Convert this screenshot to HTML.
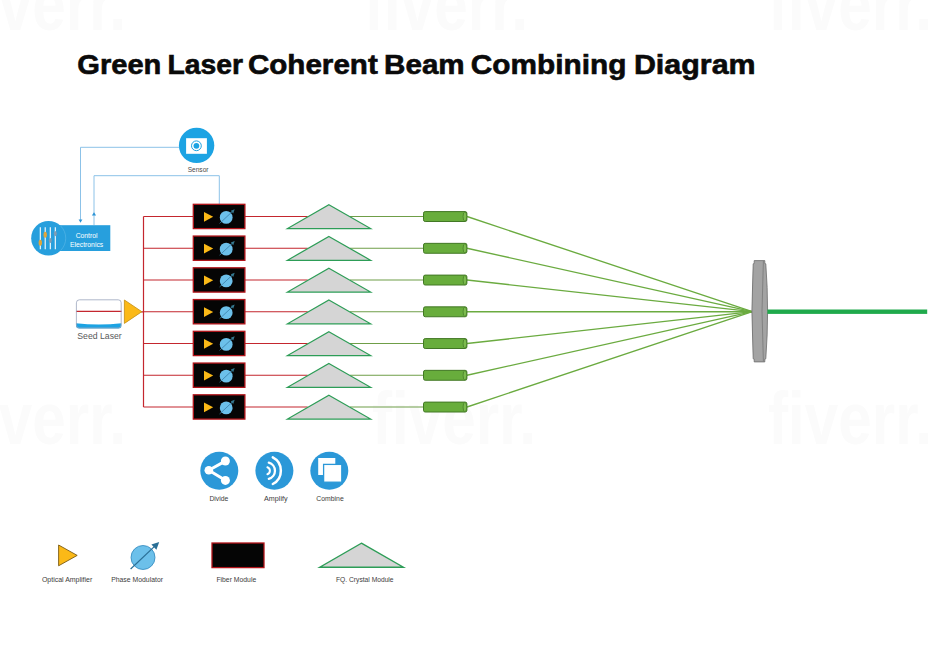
<!DOCTYPE html>
<html><head><meta charset="utf-8"><title>Green Laser Coherent Beam Combining Diagram</title>
<style>
html,body{margin:0;padding:0;background:#fff;}
body{width:950px;height:672px;overflow:hidden;position:relative;font-family:"Liberation Sans",sans-serif;}
svg{position:absolute;left:0;top:0;}
text{font-family:"Liberation Sans",sans-serif;}
</style></head><body>
<svg width="950" height="672" viewBox="0 0 950 672">
<rect width="950" height="672" fill="#ffffff"/>

<g fill="#fbfbfb" font-weight="bold" font-size="74">
<text x="-38" y="30" textLength="164" lengthAdjust="spacingAndGlyphs">fiverr.</text>
<text x="364" y="30" textLength="164" lengthAdjust="spacingAndGlyphs">fiverr.</text>
<text x="768" y="30" textLength="164" lengthAdjust="spacingAndGlyphs">fiverr.</text>
<text x="-38" y="444" textLength="164" lengthAdjust="spacingAndGlyphs">fiverr.</text>
<text x="372" y="444" textLength="164" lengthAdjust="spacingAndGlyphs">fiverr.</text>
<text x="768" y="444" textLength="164" lengthAdjust="spacingAndGlyphs">fiverr.</text>
</g>
<text class="tw" x="77.30" y="73.6" font-size="27" font-weight="bold" fill="#0a0a0a" stroke="#0a0a0a" stroke-width="0.6" textLength="84.10" lengthAdjust="spacingAndGlyphs">Green</text>
<text class="tw" x="167.50" y="73.6" font-size="27" font-weight="bold" fill="#0a0a0a" stroke="#0a0a0a" stroke-width="0.6" textLength="75.50" lengthAdjust="spacingAndGlyphs">Laser</text>
<text class="tw" x="247.90" y="73.6" font-size="27" font-weight="bold" fill="#0a0a0a" stroke="#0a0a0a" stroke-width="0.6" textLength="129.90" lengthAdjust="spacingAndGlyphs">Coherent</text>
<text class="tw" x="384.10" y="73.6" font-size="27" font-weight="bold" fill="#0a0a0a" stroke="#0a0a0a" stroke-width="0.6" textLength="80.60" lengthAdjust="spacingAndGlyphs">Beam</text>
<text class="tw" x="470.80" y="73.6" font-size="27" font-weight="bold" fill="#0a0a0a" stroke="#0a0a0a" stroke-width="0.6" textLength="155.60" lengthAdjust="spacingAndGlyphs">Combining</text>
<text class="tw" x="633.90" y="73.6" font-size="27" font-weight="bold" fill="#0a0a0a" stroke="#0a0a0a" stroke-width="0.6" textLength="121.70" lengthAdjust="spacingAndGlyphs">Diagram</text>
<g fill="none" stroke="#8cc2e8" stroke-width="1">
<path d="M179 147.3 H80.5 V220"/>
<path d="M94 225 V175.7 H219.3 V204"/>
</g>
<path d="M78.6 219.6 L82.4 219.6 L80.5 222.8 Z" fill="#2a93d5"/>
<path d="M91.9 215.5 L96.1 215.5 L94 212.2 Z" fill="#2a93d5"/>
<circle cx="196.6" cy="145.4" r="17.7" fill="#1ca3e3"/>
<rect x="186.1" y="138.2" width="20.8" height="15.6" fill="#fff"/>
<circle cx="196.4" cy="145.8" r="4.9" fill="#fff" stroke="#1ca3e3" stroke-width="1"/>
<circle cx="196.4" cy="145.8" r="2.9" fill="#1ca3e3"/>
<text x="198.1" y="171.6" font-size="7.3" fill="#4a4a4a" text-anchor="middle" textLength="20.8" lengthAdjust="spacingAndGlyphs">Sensor</text>
<rect x="48" y="225.2" width="62.3" height="25.8" fill="#279fdd"/>
<circle cx="48.5" cy="238.2" r="17.3" fill="#279fdd"/>
<path d="M60.7 226 A17.3 17.3 0 0 1 60.7 250.4" fill="none" stroke="#5cb8e8" stroke-width="0.6"/>
<g stroke="#fff" stroke-width="1.1"><path d="M40.3 227.2V249.2M45.2 227.2V249.2M50.3 227.2V249.2M55.3 227.2V249.2"/></g>
<ellipse cx="45.2" cy="234.7" rx="1.7" ry="3" fill="#e2a63a"/>
<ellipse cx="40.3" cy="242.8" rx="1.7" ry="3" fill="#e2a63a"/>
<ellipse cx="50.3" cy="240.5" rx="1.5" ry="2.6" fill="#7f9db5"/>
<ellipse cx="55.3" cy="233.6" rx="1.5" ry="2.6" fill="#7f9db5"/>
<text x="86.6" y="237.6" font-size="6.8" fill="#fff" text-anchor="middle">Control</text>
<text x="86.6" y="246.5" font-size="6.8" fill="#fff" text-anchor="middle">Electronics</text>
<g fill="none" stroke="#c4262e" stroke-width="1.2">
<path d="M143.5 216.5 V407.0"/>
<path d="M143.5 216.50 H193 M245 216.50 H307.7"/>
<path d="M143.5 248.25 H193 M245 248.25 H307.7"/>
<path d="M143.5 280.00 H193 M245 280.00 H307.7"/>
<path d="M143.5 311.75 H193 M245 311.75 H307.7"/>
<path d="M143.5 343.50 H193 M245 343.50 H307.7"/>
<path d="M143.5 375.25 H193 M245 375.25 H307.7"/>
<path d="M143.5 407.00 H193 M245 407.00 H307.7"/>
<path d="M76 311.4 H121.6 M141 311.8 H144"/>
</g>
<defs><clipPath id="sl"><rect x="76" y="299.4" width="45.6" height="29" rx="3.2"/></clipPath></defs>
<g clip-path="url(#sl)"><rect x="76" y="299.4" width="45.6" height="29" fill="#fff"/><path d="M76 323.2 Q98.8 325.6 121.6 323.2 V329 H76 Z" fill="#1ca3e3"/><path d="M76 311.4 H121.6" stroke="#c4262e" stroke-width="1.2"/></g>
<rect x="76.4" y="299.8" width="44.8" height="28.2" rx="3" fill="none" stroke="#9aa4bc" stroke-width="0.8"/>
<path d="M124.4 300 L141.8 311.7 L124.4 323.4 Z" fill="#fbb917" stroke="#c9951c" stroke-width="0.9" stroke-linejoin="miter"/>
<text x="99.5" y="338.9" font-size="8.7" fill="#58595b" text-anchor="middle">Seed Laser</text>
<g fill="none" stroke="#6fa045" stroke-width="1.15">
<path d="M350 216.50 H423.5" stroke="#6f9e48" stroke-width="1.05"/><path d="M467 216.50 L752.3 311.7" stroke="#6bab40" stroke-width="1.35"/>
<path d="M350 248.25 H423.5" stroke="#6f9e48" stroke-width="1.05"/><path d="M467 248.25 L752.3 311.7" stroke="#6bab40" stroke-width="1.35"/>
<path d="M350 280.00 H423.5" stroke="#6f9e48" stroke-width="1.05"/><path d="M467 280.00 L752.3 311.7" stroke="#6bab40" stroke-width="1.35"/>
<path d="M350 311.75 H423.5" stroke="#6f9e48" stroke-width="1.05"/><path d="M467 311.75 L752.3 311.7" stroke="#6bab40" stroke-width="1.35"/>
<path d="M350 343.50 H423.5" stroke="#6f9e48" stroke-width="1.05"/><path d="M467 343.50 L752.3 311.7" stroke="#6bab40" stroke-width="1.35"/>
<path d="M350 375.25 H423.5" stroke="#6f9e48" stroke-width="1.05"/><path d="M467 375.25 L752.3 311.7" stroke="#6bab40" stroke-width="1.35"/>
<path d="M350 407.00 H423.5" stroke="#6f9e48" stroke-width="1.05"/><path d="M467 407.00 L752.3 311.7" stroke="#6bab40" stroke-width="1.35"/>
</g>
<g transform="translate(0 0.00)">
<rect x="193.3" y="204.3" width="51.6" height="24.3" fill="#050505" stroke="#b2141a" stroke-width="1.3"/>
<path d="M204 211.9 L213.2 216.8 L204 221.7 Z" fill="#fbb917"/>
<path d="M219.6 223.4 L232.8 211" stroke="#2f6a86" stroke-width="1" fill="none"/>
<circle cx="226.2" cy="217.4" r="6.4" fill="#6cc0ea"/>
<path d="M221.6 221.6 L231 212.8" stroke="#3f86b0" stroke-width="0.9" fill="none"/>
<path d="M234.7 209.2 L230.8 210.8 L233.2 213.4 Z" fill="#35788f"/>
</g>
<g transform="translate(0 31.75)">
<rect x="193.3" y="204.3" width="51.6" height="24.3" fill="#050505" stroke="#b2141a" stroke-width="1.3"/>
<path d="M204 211.9 L213.2 216.8 L204 221.7 Z" fill="#fbb917"/>
<path d="M219.6 223.4 L232.8 211" stroke="#2f6a86" stroke-width="1" fill="none"/>
<circle cx="226.2" cy="217.4" r="6.4" fill="#6cc0ea"/>
<path d="M221.6 221.6 L231 212.8" stroke="#3f86b0" stroke-width="0.9" fill="none"/>
<path d="M234.7 209.2 L230.8 210.8 L233.2 213.4 Z" fill="#35788f"/>
</g>
<g transform="translate(0 63.50)">
<rect x="193.3" y="204.3" width="51.6" height="24.3" fill="#050505" stroke="#b2141a" stroke-width="1.3"/>
<path d="M204 211.9 L213.2 216.8 L204 221.7 Z" fill="#fbb917"/>
<path d="M219.6 223.4 L232.8 211" stroke="#2f6a86" stroke-width="1" fill="none"/>
<circle cx="226.2" cy="217.4" r="6.4" fill="#6cc0ea"/>
<path d="M221.6 221.6 L231 212.8" stroke="#3f86b0" stroke-width="0.9" fill="none"/>
<path d="M234.7 209.2 L230.8 210.8 L233.2 213.4 Z" fill="#35788f"/>
</g>
<g transform="translate(0 95.25)">
<rect x="193.3" y="204.3" width="51.6" height="24.3" fill="#050505" stroke="#b2141a" stroke-width="1.3"/>
<path d="M204 211.9 L213.2 216.8 L204 221.7 Z" fill="#fbb917"/>
<path d="M219.6 223.4 L232.8 211" stroke="#2f6a86" stroke-width="1" fill="none"/>
<circle cx="226.2" cy="217.4" r="6.4" fill="#6cc0ea"/>
<path d="M221.6 221.6 L231 212.8" stroke="#3f86b0" stroke-width="0.9" fill="none"/>
<path d="M234.7 209.2 L230.8 210.8 L233.2 213.4 Z" fill="#35788f"/>
</g>
<g transform="translate(0 127.00)">
<rect x="193.3" y="204.3" width="51.6" height="24.3" fill="#050505" stroke="#b2141a" stroke-width="1.3"/>
<path d="M204 211.9 L213.2 216.8 L204 221.7 Z" fill="#fbb917"/>
<path d="M219.6 223.4 L232.8 211" stroke="#2f6a86" stroke-width="1" fill="none"/>
<circle cx="226.2" cy="217.4" r="6.4" fill="#6cc0ea"/>
<path d="M221.6 221.6 L231 212.8" stroke="#3f86b0" stroke-width="0.9" fill="none"/>
<path d="M234.7 209.2 L230.8 210.8 L233.2 213.4 Z" fill="#35788f"/>
</g>
<g transform="translate(0 158.75)">
<rect x="193.3" y="204.3" width="51.6" height="24.3" fill="#050505" stroke="#b2141a" stroke-width="1.3"/>
<path d="M204 211.9 L213.2 216.8 L204 221.7 Z" fill="#fbb917"/>
<path d="M219.6 223.4 L232.8 211" stroke="#2f6a86" stroke-width="1" fill="none"/>
<circle cx="226.2" cy="217.4" r="6.4" fill="#6cc0ea"/>
<path d="M221.6 221.6 L231 212.8" stroke="#3f86b0" stroke-width="0.9" fill="none"/>
<path d="M234.7 209.2 L230.8 210.8 L233.2 213.4 Z" fill="#35788f"/>
</g>
<g transform="translate(0 190.50)">
<rect x="193.3" y="204.3" width="51.6" height="24.3" fill="#050505" stroke="#b2141a" stroke-width="1.3"/>
<path d="M204 211.9 L213.2 216.8 L204 221.7 Z" fill="#fbb917"/>
<path d="M219.6 223.4 L232.8 211" stroke="#2f6a86" stroke-width="1" fill="none"/>
<circle cx="226.2" cy="217.4" r="6.4" fill="#6cc0ea"/>
<path d="M221.6 221.6 L231 212.8" stroke="#3f86b0" stroke-width="0.9" fill="none"/>
<path d="M234.7 209.2 L230.8 210.8 L233.2 213.4 Z" fill="#35788f"/>
</g>
<path d="M328.9 204.70 L370.6 228.50 L287.5 228.50 Z" fill="#d5d5d5" stroke="#2d9d57" stroke-width="1.25" stroke-linejoin="miter"/>
<path d="M328.9 236.45 L370.6 260.25 L287.5 260.25 Z" fill="#d5d5d5" stroke="#2d9d57" stroke-width="1.25" stroke-linejoin="miter"/>
<path d="M328.9 268.20 L370.6 292.00 L287.5 292.00 Z" fill="#d5d5d5" stroke="#2d9d57" stroke-width="1.25" stroke-linejoin="miter"/>
<path d="M328.9 299.95 L370.6 323.75 L287.5 323.75 Z" fill="#d5d5d5" stroke="#2d9d57" stroke-width="1.25" stroke-linejoin="miter"/>
<path d="M328.9 331.70 L370.6 355.50 L287.5 355.50 Z" fill="#d5d5d5" stroke="#2d9d57" stroke-width="1.25" stroke-linejoin="miter"/>
<path d="M328.9 363.45 L370.6 387.25 L287.5 387.25 Z" fill="#d5d5d5" stroke="#2d9d57" stroke-width="1.25" stroke-linejoin="miter"/>
<path d="M328.9 395.20 L370.6 419.00 L287.5 419.00 Z" fill="#d5d5d5" stroke="#2d9d57" stroke-width="1.25" stroke-linejoin="miter"/>
<g transform="translate(0 0.00)"><rect x="423.5" y="211.6" width="43.4" height="9.9" rx="1.7" fill="#68ad3c" stroke="#427825" stroke-width="1"/><ellipse cx="464.9" cy="216.55" rx="1.8" ry="4.6" fill="#7cbc4e" stroke="#427825" stroke-width="0.7"/></g>
<g transform="translate(0 31.75)"><rect x="423.5" y="211.6" width="43.4" height="9.9" rx="1.7" fill="#68ad3c" stroke="#427825" stroke-width="1"/><ellipse cx="464.9" cy="216.55" rx="1.8" ry="4.6" fill="#7cbc4e" stroke="#427825" stroke-width="0.7"/></g>
<g transform="translate(0 63.50)"><rect x="423.5" y="211.6" width="43.4" height="9.9" rx="1.7" fill="#68ad3c" stroke="#427825" stroke-width="1"/><ellipse cx="464.9" cy="216.55" rx="1.8" ry="4.6" fill="#7cbc4e" stroke="#427825" stroke-width="0.7"/></g>
<g transform="translate(0 95.25)"><rect x="423.5" y="211.6" width="43.4" height="9.9" rx="1.7" fill="#68ad3c" stroke="#427825" stroke-width="1"/><ellipse cx="464.9" cy="216.55" rx="1.8" ry="4.6" fill="#7cbc4e" stroke="#427825" stroke-width="0.7"/></g>
<g transform="translate(0 127.00)"><rect x="423.5" y="211.6" width="43.4" height="9.9" rx="1.7" fill="#68ad3c" stroke="#427825" stroke-width="1"/><ellipse cx="464.9" cy="216.55" rx="1.8" ry="4.6" fill="#7cbc4e" stroke="#427825" stroke-width="0.7"/></g>
<g transform="translate(0 158.75)"><rect x="423.5" y="211.6" width="43.4" height="9.9" rx="1.7" fill="#68ad3c" stroke="#427825" stroke-width="1"/><ellipse cx="464.9" cy="216.55" rx="1.8" ry="4.6" fill="#7cbc4e" stroke="#427825" stroke-width="0.7"/></g>
<g transform="translate(0 190.50)"><rect x="423.5" y="211.6" width="43.4" height="9.9" rx="1.7" fill="#68ad3c" stroke="#427825" stroke-width="1"/><ellipse cx="464.9" cy="216.55" rx="1.8" ry="4.6" fill="#7cbc4e" stroke="#427825" stroke-width="0.7"/></g>
<path d="M754.2 260.6 H764.8 V263.6 L765.8 263.8 Q769.4 311 765.8 358.8 L764.8 359 V361.9 H754.2 V359 L753.2 358.8 Q750.6 311 753.2 263.8 L754.2 263.6 Z" fill="#a3a3a3" stroke="#6c6c6c" stroke-width="0.8"/>
<path d="M763.4 261 Q760.6 311 763.4 361.6" fill="none" stroke="#787878" stroke-width="0.8"/>
<rect x="767.4" y="309.5" width="159.8" height="4.4" fill="#20aa4c"/>
<circle cx="219.3" cy="470.7" r="19" fill="#2b98d8"/>
<circle cx="274.4" cy="470.7" r="19" fill="#2b98d8"/>
<circle cx="329.3" cy="470.7" r="19" fill="#2b98d8"/>
<g fill="#fff"><path d="M208.8 470.2 L225.3 461.1 M208.8 470.2 L225.3 480.3" fill="none" stroke="#fff" stroke-width="3"/><circle cx="208.8" cy="470.2" r="4.3"/><circle cx="225.4" cy="461" r="4.5"/><circle cx="225.4" cy="480.4" r="4.5"/></g>
<g fill="none" stroke="#fff" stroke-linecap="round"><path d="M267.4 467.2 A3.7 3.7 0 0 1 267.4 474.2" stroke-width="2"/><path d="M268.8 462.6 A8.4 8.4 0 0 1 268.8 478.8" stroke-width="2.3"/><path d="M272.8 457.4 A15 15 0 0 1 272.8 484" stroke-width="2.5"/></g>
<rect x="318.2" y="458" width="17.1" height="17" fill="#fff"/>
<rect x="323.6" y="464.4" width="18.2" height="17.8" fill="#fff" stroke="#2b98d8" stroke-width="1.3"/>
<rect x="318.4" y="458.6" width="17" height="17" fill="none" stroke="none"/>
<text x="218.9" y="500.8" font-size="7.3" fill="#3c3c3c" text-anchor="middle" textLength="19" lengthAdjust="spacingAndGlyphs">Divide</text>
<text x="275.8" y="500.8" font-size="7.3" fill="#3c3c3c" text-anchor="middle" textLength="23.5" lengthAdjust="spacingAndGlyphs">Amplify</text>
<text x="330" y="500.8" font-size="7.3" fill="#3c3c3c" text-anchor="middle" textLength="27.4" lengthAdjust="spacingAndGlyphs">Combine</text>
<path d="M58.6 545 L77.2 555.4 L58.6 565.8 Z" fill="#fbb917" stroke="#7a5a12" stroke-width="0.9"/>
<circle cx="143" cy="557.5" r="12" fill="#6cc0ea" stroke="#2f86bd" stroke-width="0.8"/>
<path d="M130.6 569 L155.6 545.4" stroke="#2a6f96" stroke-width="1.2" fill="none"/>
<path d="M159.2 542 L151.4 544.6 L156.4 549.8 Z" fill="#2a6f96"/>
<rect x="212" y="543" width="52" height="24.6" fill="#050505" stroke="#b2141a" stroke-width="1.3"/>
<path d="M361.4 543.2 L403.4 567.2 L319.8 567.2 Z" fill="#d5d5d5" stroke="#2d9d57" stroke-width="1.4"/>
<text x="67.1" y="581.8" font-size="7" fill="#3c3c3c" text-anchor="middle" textLength="50.4" lengthAdjust="spacingAndGlyphs">Optical Amplifier</text>
<text x="137.1" y="581.8" font-size="7" fill="#3c3c3c" text-anchor="middle" textLength="51.9" lengthAdjust="spacingAndGlyphs">Phase Modulator</text>
<text x="236.3" y="581.8" font-size="7" fill="#3c3c3c" text-anchor="middle" textLength="39.8" lengthAdjust="spacingAndGlyphs">Fiber Module</text>
<text x="364.8" y="581.8" font-size="7" fill="#3c3c3c" text-anchor="middle" textLength="57.5" lengthAdjust="spacingAndGlyphs">FQ. Crystal Module</text>
</svg></body></html>
